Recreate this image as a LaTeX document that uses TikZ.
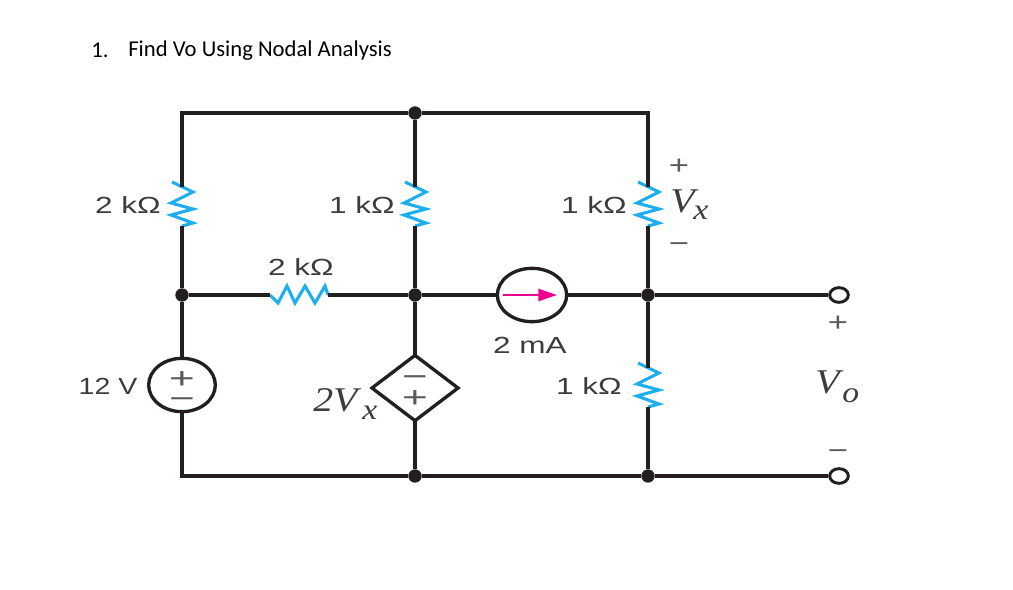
\documentclass[tikz,border=0pt]{standalone}
\usepackage{fontspec}
\usetikzlibrary{shapes.geometric,arrows.meta}
\setmainfont{Liberation Sans}
\newfontfamily\titlefont{Carlito}
\newfontfamily\lab[FakeStretch=1.35]{Liberation Sans}
\newfontfamily\labn[FakeStretch=1.22]{Liberation Sans}
\newfontfamily\symbig[FakeStretch=1.5]{Liberation Sans}
\newfontfamily\symsmall[FakeStretch=1.3]{Liberation Sans}
\newfontfamily\varfont[FakeStretch=1.15]{Liberation Serif}
\definecolor{wire}{HTML}{231F20}
\definecolor{rescol}{HTML}{1CAEEF}
\definecolor{txt}{HTML}{3C3C3C}
\definecolor{symcol}{HTML}{5A5A5A}
\definecolor{arrowcol}{HTML}{EC008C}
\tikzset{
  wireline/.style={draw=wire,line width=3pt},
  hwire/.style={draw=wire,line width=2.4pt},
  resline/.style={draw=rescol,line width=2.3pt,line join=miter},
  dot/.style={circle,fill=wire,inner sep=0pt,minimum size=10pt},
  term/.style={ellipse,draw=wire,fill=white,line width=2.2pt,inner sep=0pt,minimum width=14pt,minimum height=11pt},
  source/.style={ellipse,draw=wire,fill=white,line width=2.5pt,inner sep=0pt,outer sep=0pt},
  lbl/.style={text=txt,font=\lab\fontsize{17.5}{20}\selectfont,inner sep=0pt},
  lbln/.style={text=txt,font=\labn\fontsize{17.5}{20}\selectfont,inner sep=0pt},
  bigsym/.style={text=symcol,font=\symbig\fontsize{22}{24}\selectfont,inner sep=0pt,anchor=base},
  sym/.style={text=symcol,font=\symsmall\fontsize{20}{22}\selectfont,inner sep=0pt,anchor=base},
  mathlbl/.style={text=txt,font=\varfont\itshape\fontsize{26}{28}\selectfont,inner sep=0pt},
  sublbl/.style={text=txt,font=\varfont\itshape\fontsize{22}{24}\selectfont,inner sep=0pt},
}
\newcommand{\vresistor}[3]{% name, x, ytop
  \coordinate (#1t) at (#2,#3+5);
  \coordinate (#1b) at (#2,#3+44);
  \draw[resline] (#2-10,#3) -- ++(21,10) -- ++(-22,11) -- ++(22,6) -- ++(-22,6) -- ++(22,8) -- (#1b);
}
\begin{document}
\begin{tikzpicture}[x=0.75pt,y=-0.75pt]
\useasboundingbox[fill=white] (0,0) rectangle (1013,589);

\node[anchor=west,font=\titlefont\fontsize{17}{20}\selectfont,text=black,inner sep=0pt] (title1) at (91,50.5) {1.};
\node[anchor=west,font=\titlefont\fontsize{17}{20}\selectfont,text=black,inner sep=0pt] (title2) at (128,50.5) {Find Vo Using Nodal Analysis};

% junctions and corners
\coordinate (tl) at (182,113);
\coordinate (tr) at (648,113);
\node[dot] (tm) at (415,113) {};
\node[dot] (ml) at (182,295) {};
\node[dot] (mm) at (415,295) {};
\node[dot] (mr) at (648,295) {};
\coordinate (bl) at (182,476);
\node[dot] (bm) at (415,476) {};
\node[dot] (br) at (648,476) {};

% resistors
\vresistor{ra}{182}{182}
\vresistor{rb}{415}{182}
\vresistor{rc}{648}{182}
\vresistor{rd}{648}{363}
\coordinate (rel) at (270,295);
\coordinate (rer) at (328,295);
\draw[resline] (rel) -- (278,303) -- (287,286) -- (295,303) -- (305,286) -- (315,303) -- (325,286) -- (rer);

% sources
\node[source,minimum width=50pt,minimum height=40pt] (vs) at (182,385) {};
\node[source,minimum width=52pt,minimum height=40pt] (is) at (532,295) {};
\node[diamond,draw=wire,fill=white,line width=2.5pt,inner sep=0pt,outer sep=0pt,minimum width=64.5pt,minimum height=49pt] (dep) at (415,388) {};

% terminals
\node[term] (tp) at (839,295) {};
\node[term] (tn) at (839,476) {};

% wires
\draw[wireline,line join=miter] (ml) -- (rab) (rat) -- (tl) -- (tm);
\draw[wireline,line join=miter] (tm) -- (tr) -- (rct) (rcb) -- (mr);
\draw[wireline] (ml) -- (vs);
\draw[wireline,line join=miter] (vs) -- (bl) -- (bm);
\draw[wireline] (tm) -- (rbt);
\draw[wireline] (rbb) -- (mm);
\draw[wireline] (mm) -- (dep);
\draw[wireline] (dep) -- (bm);
\draw[wireline] (mr) -- (rdt);
\draw[wireline] (rdb) -- (br);
\draw[hwire] (ml) -- (rel);
\draw[hwire] (rer) -- (mm);
\draw[hwire] (mm) -- (is);
\draw[hwire] (is) -- (mr);
\draw[hwire] (mr) -- (tp);
\draw[wireline] (bm) -- (br);
\draw[hwire] (br) -- (tn);

% current arrow
\coordinate (ia) at (503,295);
\coordinate (ib) at (557,295);
\draw[draw=arrowcol,line width=2pt,-{Triangle[length=14pt,width=9pt]}] (ia) -- (ib);

% source marks (base anchored, glyph centre about 0.35 em above the base)
\node[bigsym] (vsp) at (182,388) {+};
\node[bigsym] (vsm) at (182,408) {−};
\node[bigsym] (dm) at (415,386) {−};
\node[bigsym] (dp) at (415,407) {+};

% labels
\node[lbl] (l1) at (128,205) {2 kΩ};
\node[lbl] (l2) at (362,205) {1 kΩ};
\node[lbl] (l3) at (594,205) {1 kΩ};
\node[lbl] (l4) at (301,267) {2 kΩ};
\node[lbln] (l5) at (108,386) {12 V};
\node[lbl] (l6) at (530,345) {2 mA};
\node[lbl] (l7) at (589,386) {1 kΩ};

\node[sym] (vxp) at (679,174) {+};
\node[sym] (vxm) at (679,252) {−};
\node[mathlbl,anchor=base west] (vx) at (670,212) {V};
\node[sublbl,anchor=base west] (vxs) at (693,219) {x};
\node[sym] (vop) at (838,331) {+};
\node[sym] (vom) at (838,459) {−};
\node[mathlbl,anchor=base west] (vo) at (815,393) {V};
\node[sublbl,anchor=base west] (vos) at (842,402) {o};
\node[mathlbl,anchor=base west] (dv) at (313,411) {2V};
\node[sublbl,anchor=base west] (dvs) at (362,419) {x};
\end{tikzpicture}
\end{document}
